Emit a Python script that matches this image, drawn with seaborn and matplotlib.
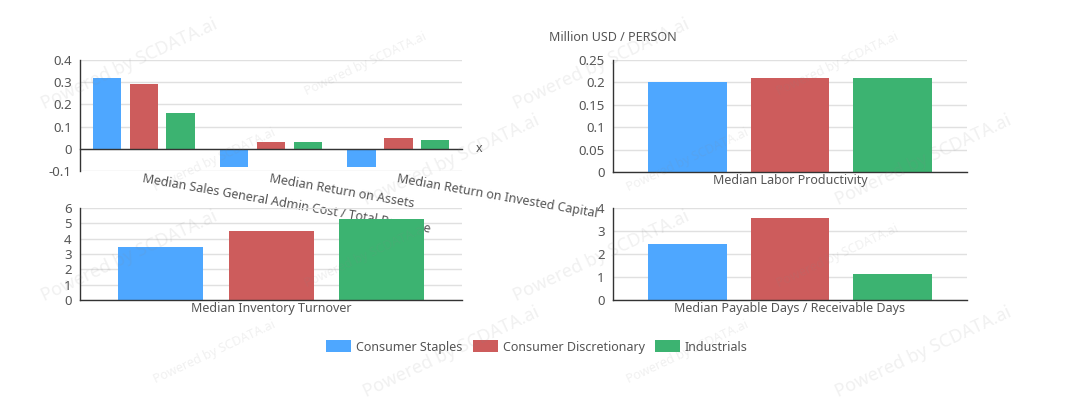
import matplotlib
matplotlib.use('Agg')
import matplotlib.pyplot as plt
import matplotlib.ticker as ticker
import matplotlib.transforms as mtransforms
import pandas as pd
import seaborn as sns

SECTORS = ['Consumer Staples', 'Consumer Discretionary', 'Industrials']
PALETTE = ['#4ea7ff', '#cd5c5c', '#3cb371']

RATIO_METRICS = ['Median Sales General Admin Cost / Total Revenue',
                 'Median Return on Assets',
                 'Median Return on Invested Capital']
RATIO_STAPLES = [0.32, -0.08, -0.08]
RATIO_DISCRETIONARY = [0.29, 0.03, 0.05]
RATIO_INDUSTRIALS = [0.16, 0.03, 0.04]

LABOR_METRIC = ['Median Labor Productivity']
LABOR_VALUES = [0.20, 0.21, 0.21]

INVENTORY_METRIC = ['Median Inventory Turnover']
INVENTORY_VALUES = [3.45, 4.48, 5.3]

PAYABLE_METRIC = ['Median Payable Days / Receivable Days']
PAYABLE_VALUES = [2.45, 3.55, 1.15]

AXIS_COLOR = '#333333'
TEXT_COLOR = '#555555'
GRID_COLOR = '#e0e0e0'


def longFrame(metrics, seriesList):
    rows = []
    for sector, series in zip(SECTORS, seriesList):
        for metric, value in zip(metrics, series):
            rows.append({'METRIC': metric, 'SECTOR': sector, 'VALUE': value})
    return pd.DataFrame(rows)


def drawPanel(ax, df, metrics, ylim, step, showLabels=True):
    sns.barplot(data=df, x='METRIC', y='VALUE', hue='SECTOR', order=metrics,
                hue_order=SECTORS, palette=PALETTE, saturation=1, width=0.8667,
                gap=0.23, errorbar=None, linewidth=0, ax=ax, legend=True)
    n = len(metrics)
    ax.set_xlim(-0.5, n - 0.5)
    ax.set_ylim(*ylim)
    ax.yaxis.set_major_locator(ticker.MultipleLocator(step))
    ax.yaxis.set_major_formatter(ticker.FuncFormatter(lambda v, _: '{:g}'.format(round(v, 4) + 0.0)))
    ax.xaxis.set_minor_locator(ticker.FixedLocator([i - 0.5 for i in range(n + 1)]))
    ax.tick_params(axis='x', which='major', length=0, pad=1.5, labelsize=9, labelcolor=TEXT_COLOR)
    ax.tick_params(axis='x', which='minor', length=5, width=1, color=AXIS_COLOR)
    ax.tick_params(axis='y', which='major', length=4, width=1, color=AXIS_COLOR, pad=2,
                   labelsize=9.5, labelcolor=TEXT_COLOR)
    ax.yaxis.grid(True, color=GRID_COLOR, lw=1)
    ax.xaxis.grid(False)
    ax.set_axisbelow(True)
    for side in ['top', 'right']:
        ax.spines[side].set_visible(False)
    for side in ['left', 'bottom']:
        ax.spines[side].set_color(AXIS_COLOR)
        ax.spines[side].set_linewidth(1)
    ax.set_xlabel('')
    ax.set_ylabel('')
    if not showLabels:
        ax.set_xticklabels([])
    ax.set_facecolor('none')


def start():
    sns.set_style('white')
    plt.rcParams['font.family'] = ['Noto Sans', 'DejaVu Sans']

    fig = plt.figure(figsize=(10.74, 4.0), dpi=100)
    axRatio = fig.add_axes([0.0745, 0.5725, 0.3557, 0.2775])
    axLabor = fig.add_axes([0.5708, 0.57, 0.3296, 0.28])
    axInventory = fig.add_axes([0.0745, 0.25, 0.3557, 0.23])
    axPayable = fig.add_axes([0.5708, 0.25, 0.3296, 0.23])

    drawPanel(axRatio, longFrame(RATIO_METRICS, [RATIO_STAPLES, RATIO_DISCRETIONARY, RATIO_INDUSTRIALS]),
              RATIO_METRICS, (-0.1, 0.4), 0.1, showLabels=False)
    drawPanel(axLabor, longFrame(LABOR_METRIC, [[v] for v in LABOR_VALUES]),
              LABOR_METRIC, (0, 0.25), 0.05)
    drawPanel(axInventory, longFrame(INVENTORY_METRIC, [[v] for v in INVENTORY_VALUES]),
              INVENTORY_METRIC, (0, 6), 1)
    drawPanel(axPayable, longFrame(PAYABLE_METRIC, [[v] for v in PAYABLE_VALUES]),
              PAYABLE_METRIC, (0, 4), 1)

    # top-left: x axis sits on zero, labels rotated under the plot
    axRatio.spines['bottom'].set_position(('data', 0))
    trans = mtransforms.blended_transform_factory(axRatio.transData, axRatio.transAxes)
    for i, name in enumerate(RATIO_METRICS):
        axRatio.text(i, -0.01, name, transform=trans, rotation=-10, rotation_mode='anchor',
                     ha='left', va='top', fontsize=9, color=TEXT_COLOR)
    axRatio.text(1.035, 0, 'x', transform=mtransforms.blended_transform_factory(axRatio.transAxes, axRatio.transData),
                 ha='left', va='center', fontsize=9, color=TEXT_COLOR)

    axLabor.text(0, 1.205, 'Million USD / PERSON', transform=axLabor.transAxes,
                 ha='center', va='center', fontsize=9, color=TEXT_COLOR)

    # one shared legend at the bottom
    leg = axRatio.get_legend()
    handles = leg.legend_handles
    labels = [t.get_text() for t in leg.texts]
    for ax in [axRatio, axLabor, axInventory, axPayable]:
        ax.get_legend().remove()
    fig.legend(handles, labels, loc='center', bbox_to_anchor=(0.5, 0.1325), ncol=3, frameon=False,
               handlelength=2.0, handleheight=1.1, handletextpad=0.4, columnspacing=0.8,
               fontsize=9, labelcolor=TEXT_COLOR)

    # watermark, kept inside the canvas
    for row in range(4):
        for col in range(4):
            big = (row + col) % 2 == 0
            fig.text(0.12 + col * 0.22 + (row % 2) * 0.08, 0.84 - row * 0.24, 'Powered by SCDATA.ai',
                     rotation=25, fontsize=13 if big else 9, color='#888888', alpha=0.12,
                     ha='center', va='center', zorder=10)

    plt.savefig('out.png', dpi=100)


start()
